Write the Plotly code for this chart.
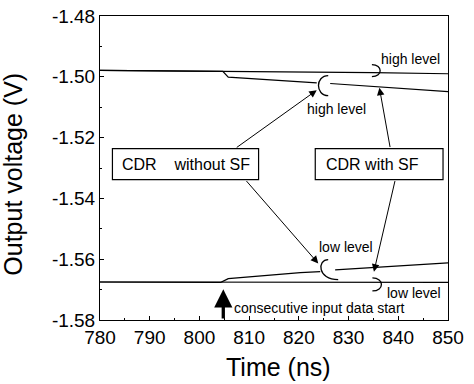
import plotly.graph_objects as go

# ---- data ----
t_high_sf = [780, 805, 835, 850]
v_high_sf = [-1.4979, -1.4982, -1.4986, -1.4990]

t_high_nosf = [780, 804.7, 805.8, 820.3, 823.6, None, 826.3, 850]
v_high_nosf = [-1.4979, -1.4982, -1.5001, -1.5017, -1.5020, None, -1.5022, -1.5049]

t_low_nosf = [780, 804.3, 805.8, 820.3, 824.3, None, 827.3, 850]
v_low_nosf = [-1.5675, -1.5676, -1.5664, -1.5644, -1.5641, None, -1.5635, -1.5612]

t_low_sf = [780, 804.3, 850]
v_low_sf = [-1.5675, -1.5676, -1.5676]

x_ticks = [780, 790, 800, 810, 820, 830, 840, 850]
x_tick_labels = ["780", "790", "800", "810", "820", "830", "840", "850"]
y_ticks = [-1.58, -1.56, -1.54, -1.52, -1.50, -1.48]
y_tick_labels = ["-1.58", "-1.56", "-1.54", "-1.52", "-1.50", "-1.48"]

FONT = "Liberation Sans, Arial, Helvetica, sans-serif"
LINE = dict(color="black", width=1.2)

fig = go.Figure()
for t, v in [(t_high_sf, v_high_sf), (t_high_nosf, v_high_nosf),
             (t_low_nosf, v_low_nosf), (t_low_sf, v_low_sf)]:
    fig.add_trace(go.Scatter(x=t, y=v, mode="lines", line=LINE,
                             connectgaps=False, showlegend=False, hoverinfo="skip"))

# level markers (bracket symbols)
def bracket(x, y, path):
    return dict(type="path", xref="x", yref="y", xsizemode="pixel", ysizemode="pixel",
                xanchor=x, yanchor=y, path=path, line=dict(color="black", width=1.3))

shapes = [
    bracket(824.9, -1.5029, "M 5,10 C -8,10 -8,-10 5,-10"),
    bracket(835.5, -1.4980, "M -4,6 C 7,6 7,-6 -4,-6"),
    bracket(825.5, -1.5634, "M 2,10 C -9,10 -9,-10 12,-10"),
    bracket(835.6, -1.5683, "M -4,6.5 C 8,6.5 8,-6.5 -4,-6.5"),
    dict(type="rect", xref="x", yref="y", x0=782.5, x1=811.9, y0=-1.5338, y1=-1.5236,
         line=dict(color="black", width=1.2), fillcolor="white", layer="above"),
    dict(type="rect", xref="x", yref="y", x0=823.3, x1=849.0, y0=-1.5338, y1=-1.5236,
         line=dict(color="black", width=1.2), fillcolor="white", layer="above"),
]

ann = []
def txt(x, y, s, size=14):
    ann.append(dict(x=x, y=y, xref="x", yref="y", text=s, showarrow=False,
                    font=dict(family=FONT, size=size, color="black"),
                    xanchor="center", yanchor="middle"))

def arrow(x0, y0, x1, y1, width=1, head=2, size=1.5):
    ann.append(dict(x=x1, y=y1, ax=x0, ay=y0, xref="x", yref="y", axref="x", ayref="y",
                    text="", showarrow=True, arrowhead=head, arrowsize=size,
                    arrowwidth=width, arrowcolor="black", standoff=0))

txt(842.4, -1.4943, "high level")
txt(827.6, -1.5105, "high level")
txt(829.5, -1.5559, "low level")
txt(843.2, -1.5710, "low level")
txt(824.1, -1.5761, "consecutive input data start")
txt(797.2, -1.5287, "CDR\u00a0\u00a0\u00a0\u00a0without SF", 16)
txt(834.8, -1.5287, "CDR with SF", 16)

arrow(807.2, -1.5236, 823.6, -1.5044)
arrow(809.2, -1.5338, 823.9, -1.5614)
arrow(838.4, -1.5236, 836.2, -1.5036)
arrow(839.4, -1.5338, 835.1, -1.5641)
arrow(804.8, -1.5800, 804.8, -1.5699, width=3.3, head=2, size=1.1)

ann.append(dict(x=0.514, y=-0.153, xref="paper", yref="paper", text="Time (ns)",
                showarrow=False, font=dict(family=FONT, size=25, color="black"),
                xanchor="center", yanchor="middle"))
ann.append(dict(x=-0.25, y=0.478, xref="paper", yref="paper", text="Output voltage (V)",
                textangle=-90, showarrow=False,
                font=dict(family=FONT, size=25, color="black"),
                xanchor="center", yanchor="middle"))

fig.update_layout(
    width=474, height=384,
    margin=dict(l=100, r=26, t=6, b=64),
    paper_bgcolor="white", plot_bgcolor="white",
    font=dict(family=FONT, color="black"),
    shapes=shapes, annotations=ann, showlegend=False,
)
fig.update_xaxes(range=[780, 850], tickvals=x_ticks, ticktext=x_tick_labels,
                 ticks="inside", ticklen=4, tickcolor="black", showgrid=False, zeroline=False,
                 showline=True, linecolor="black", linewidth=1, mirror=True,
                 ticklabeloverflow="allow",
                 tickfont=dict(family=FONT, size=19, color="black"),
                 minor=dict(dtick=5, ticks="inside", ticklen=2, tickcolor="black"))
fig.update_yaxes(range=[-1.58, -1.48], tickvals=y_ticks, ticktext=y_tick_labels,
                 ticks="inside", ticklen=4, tickcolor="black", showgrid=False, zeroline=False,
                 showline=True, linecolor="black", linewidth=1, mirror=True,
                 ticklabeloverflow="allow",
                 tickfont=dict(family=FONT, size=19, color="black"),
                 minor=dict(dtick=0.01, ticks="inside", ticklen=2, tickcolor="black"))

fig.write_html("out.html", config={"displayModeBar": False},
               post_script="document.body.style.margin='0';document.body.style.overflow='hidden';")
